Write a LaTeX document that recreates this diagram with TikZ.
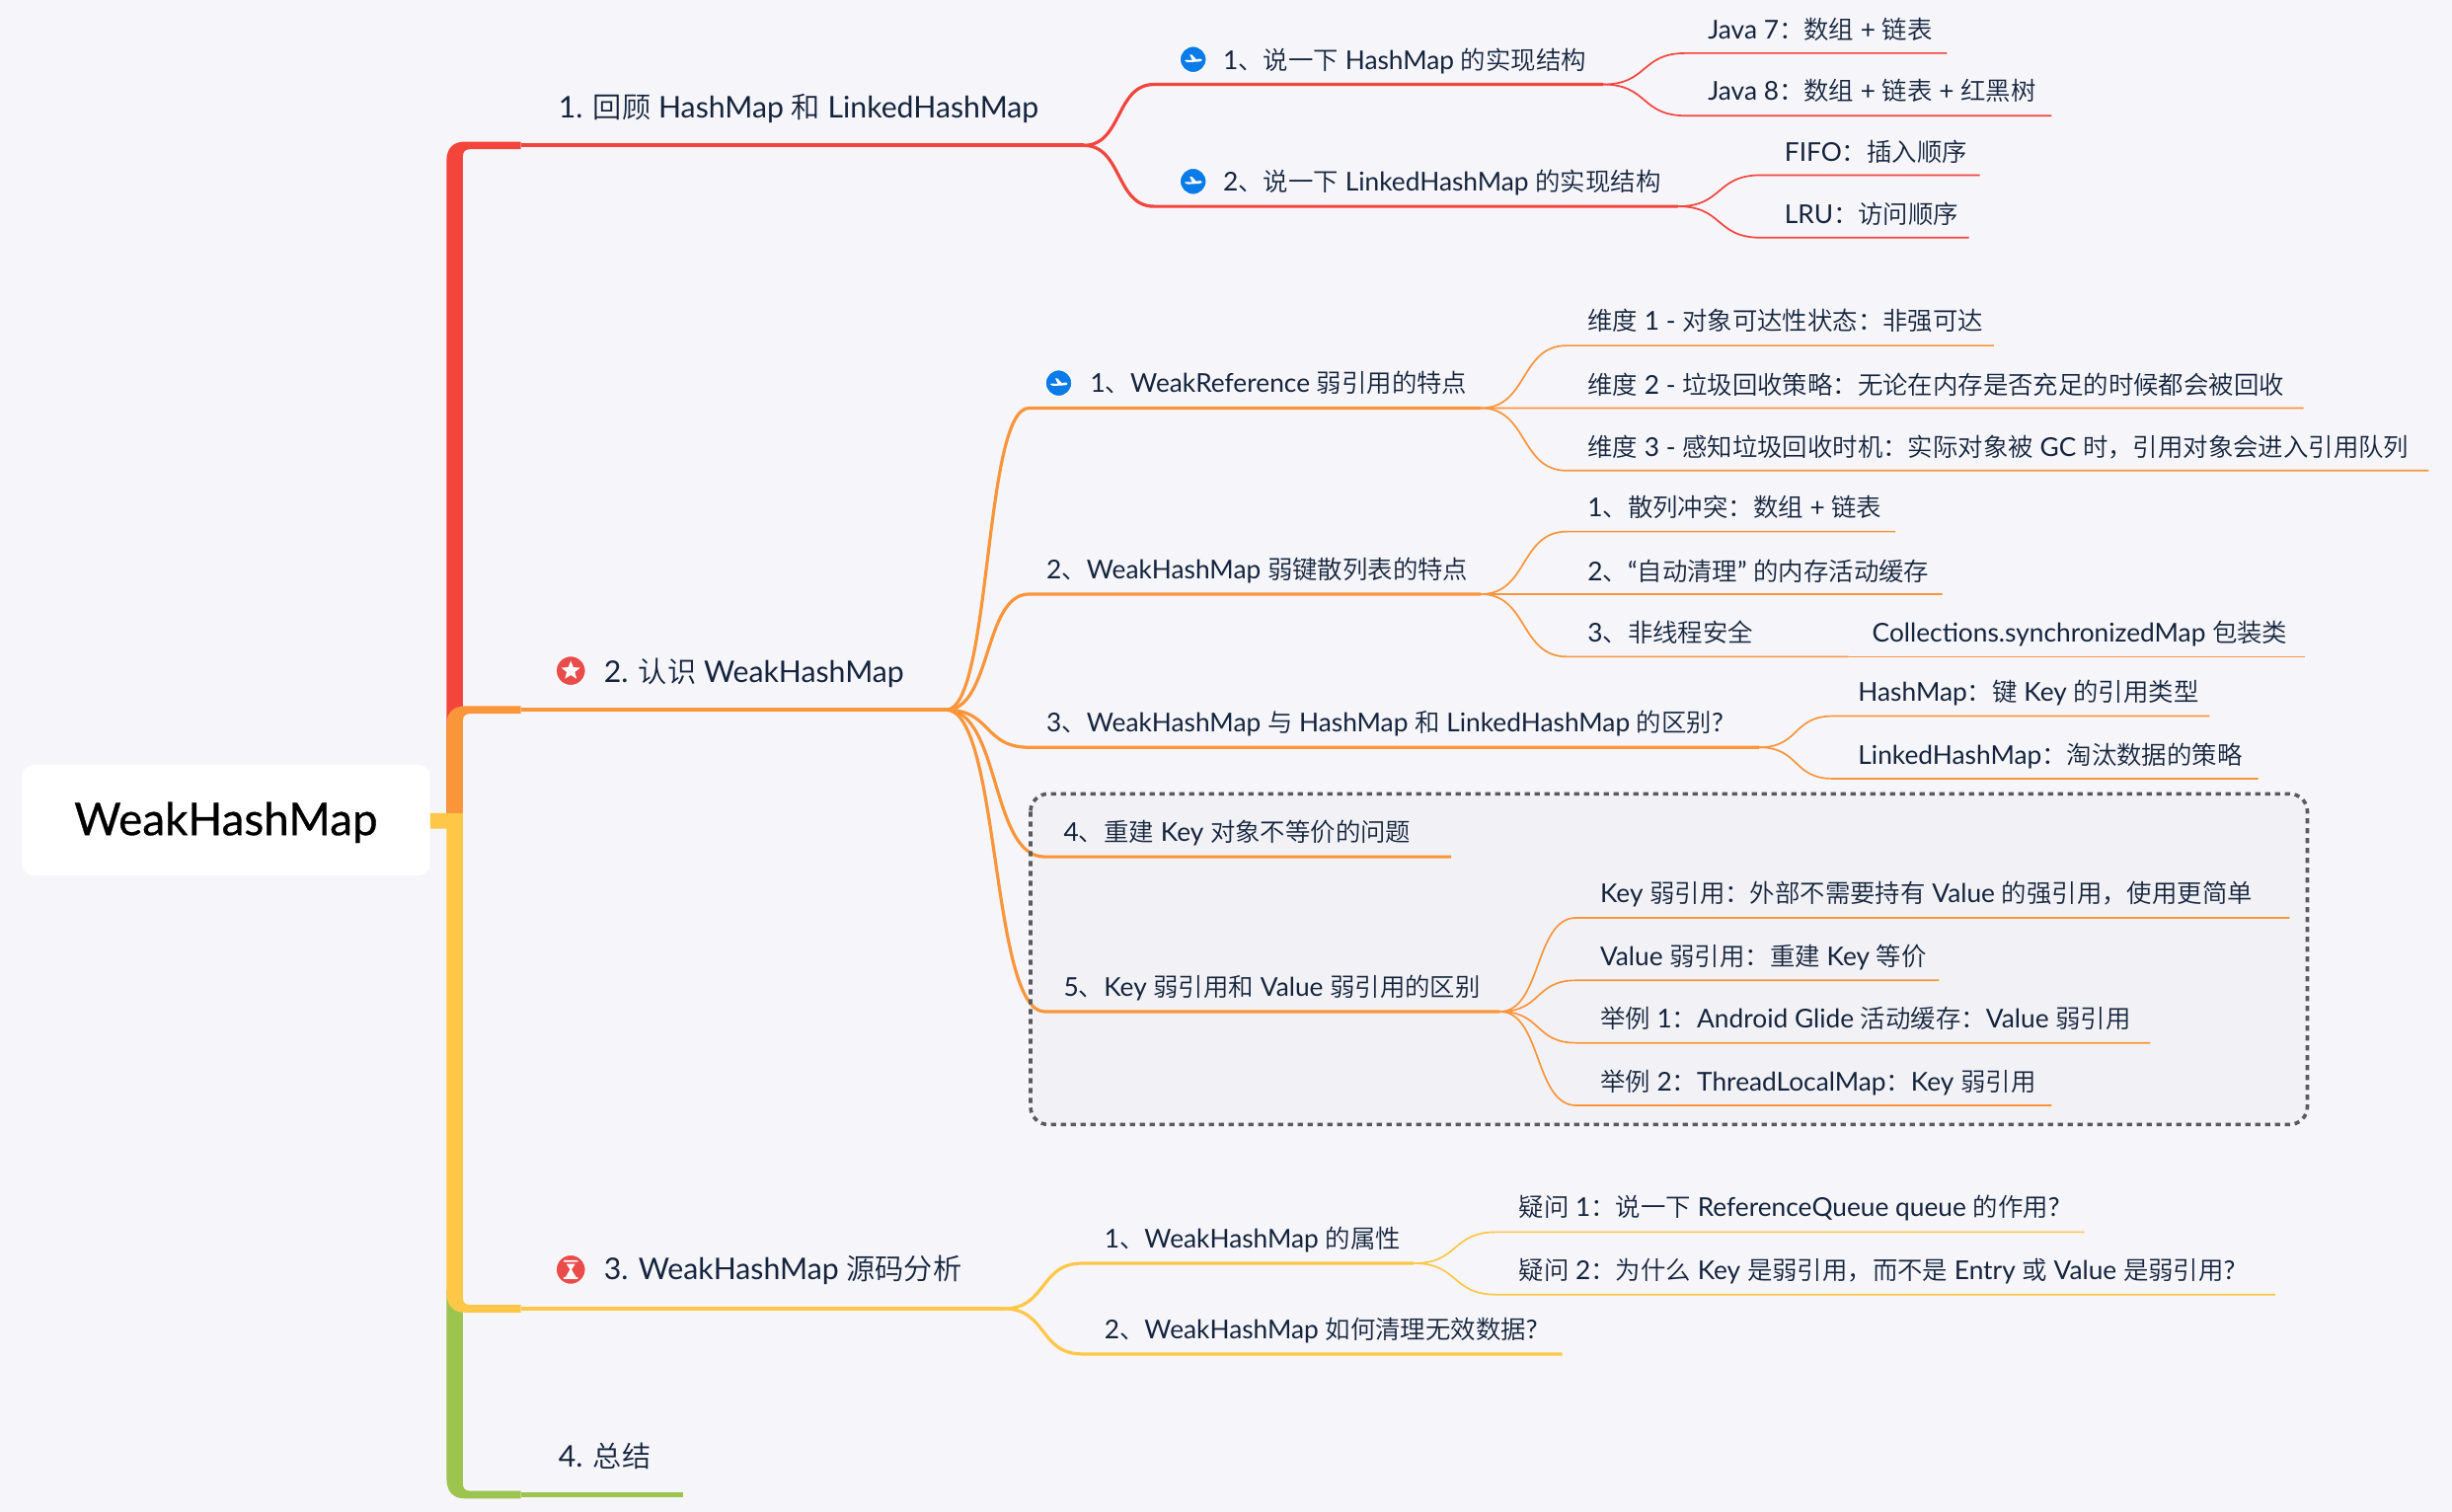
\documentclass[tikz,border=0pt]{standalone}
\usepackage{fontspec}
\usetikzlibrary{calc,shapes.geometric}
\setmainfont[Scale=1.035]{Lato}
\newfontfamily\zhf{Noto Sans CJK SC DemiLight}
\newfontfamily\rootf[FakeBold=0.6]{Lato}
\newcommand\z[1]{{\zhf #1}}
\definecolor{bgc}{HTML}{F5F5FA}
\definecolor{inkc}{HTML}{15243C}
\definecolor{redc}{HTML}{F4453D}
\definecolor{orac}{HTML}{FA953A}
\definecolor{yelc}{HTML}{FFC747}
\definecolor{grnc}{HTML}{9CC44F}
\definecolor{bluc}{HTML}{0A7BE8}
\definecolor{icrc}{HTML}{EA4B4B}
\definecolor{bdyc}{HTML}{5A5A5E}
\definecolor{bdfc}{HTML}{F2F2F6}
\tikzset{
  x=0.7921pt,y=-0.7921pt,
  lone/.style={font=\fontsize{14.6}{17}\selectfont,text=inkc,inner sep=0pt,anchor=base west},
  ltwo/.style={font=\fontsize{12.7}{15}\selectfont,text=inkc,inner sep=0pt,anchor=base west},
  wone/.style={line width=2.1pt,line cap=butt},
  wtwo/.style={line width=1.6pt},
  wthr/.style={line width=0.85pt},
  icon/.style={circle,inner sep=0pt,minimum size=13.4pt,draw=white,line width=0.6pt},
}
% id, start x, end x, underline y, text x, text centre y, style, text
\newcommand\tp[8]{%
  \coordinate (#1s) at (#2,#4);
  \coordinate (#1e) at (#3,#4);
  \node[#7] (#1) at (#5,#6+6.2) {#8};
}
\newcommand\br[3]{%
  \draw[#1] (#2) .. controls ($(#2)!0.55!(#3s|-#2)$) and ($(#3s)!0.55!(#2|-#3s)$) .. (#3s) -- (#3e);
}
\newcommand\plane[1]{%
  \fill[white,shift={(#1)}] (-5.5,0.6) -- (-4.2,0.3) -- (-0.6,0.5) -- (-2.2,-3) -- (-0.8,-3) -- (2,0) -- (4,-0.4)
     .. controls (6,-0.6) and (6.2,1.1) .. (4,1.4) -- (-3,1.8) .. controls (-4,1.8) and (-5,1.3) .. cycle;
}
\begin{document}
\begin{tikzpicture}
\useasboundingbox (0,0) rectangle (1568,967);
\fill[bgc] (0,0) rectangle (1568,967);

% boundary fill
\node[fill=bdfc,rounded corners=9pt,
  inner sep=0pt,minimum width=816*0.7921pt,minimum height=211*0.7921pt,anchor=north west] (bdy) at (659,507.7) {};

% trunk
\coordinate (t1) at (333,93);
\coordinate (t2) at (333,454);
\coordinate (t3) at (333,837);
\coordinate (t4) at (333,956);
\fill[grnc] (t4)+(0,-2.4) -- (301,953.6) .. controls (297.5,953.6) and (296,952) .. (296,949) -- (296,825) -- (285.6,825) -- (285.6,946)
  .. controls (285.6,954) and (290,958.4) .. (297,958.4) -- ($(t4)+(0,2.4)$) -- cycle;
\fill[redc] (t1)+(0,-2.4) -- (297,90.6) .. controls (290,90.6) and (285.6,95) .. (285.6,102) -- (285.6,525) -- (296,525) -- (296,100)
  .. controls (296,97) and (297.5,95.4) .. (301,95.4) -- ($(t1)+(0,2.4)$) -- cycle;
\fill[orac] (t2)+(0,-2.4) -- (297,451.6) .. controls (290,451.6) and (285.6,456) .. (285.6,463) -- (285.6,525) -- (296,525) -- (296,461)
  .. controls (296,458) and (297.5,456.4) .. (301,456.4) -- ($(t2)+(0,2.4)$) -- cycle;
\fill[yelc] (t3)+(0,-2.4) -- (301,834.6) .. controls (297.5,834.6) and (296,833) .. (296,830) -- (296,520) -- (275,520) -- (275,530) -- (285.6,530) -- (285.6,827)
  .. controls (285.6,835) and (290,839.4) .. (297,839.4) -- ($(t3)+(0,2.4)$) -- cycle;

% root
\node[fill=white,rounded corners=6pt,inner sep=0pt,minimum width=261*0.7921pt,minimum height=71*0.7921pt,
  text=black] (root) at (144.5,524.5) {};
\node[font=\rootf\fontsize{22.9}{26}\selectfont,text=black,inner sep=0pt] (rootlabel) at (144.5,526) {WeakHashMap};

% level 1
\tp{ra}{333}{693}{93}{357}{69.5}{lone}{1. \z{回顾} HashMap \z{和} LinkedHashMap}
\tp{rb}{333}{605}{454}{386}{430}{lone}{2. \z{认识} WeakHashMap}
\tp{rc}{333}{642}{837}{386}{812}{lone}{3. WeakHashMap \z{源码分析}}
\tp{rd}{333}{437}{956}{357}{932}{lone}{4. \z{总结}}
\draw[redc,wone] (t1) -- (rae);
\draw[orac,wone] (t2) -- (rbe);
\draw[yelc,wone] (t3) -- (rce);
\draw[grnc,wone] (t4) -- (rde);

% branch 1
\tp{aa}{738}{1025}{54}{782}{38}{ltwo}{1\z{、说一下} HashMap \z{的实现结构}}
\tp{ab}{738}{1073}{132}{782}{116}{ltwo}{2\z{、说一下} LinkedHashMap \z{的实现结构}}
\tp{aaa}{1078}{1245}{34}{1092}{19}{ltwo}{Java 7\z{：数组} + \z{链表}}
\tp{aab}{1078}{1312}{74}{1092}{58}{ltwo}{Java 8\z{：数组} + \z{链表} + \z{红黑树}}
\tp{aba}{1126}{1266}{112}{1141}{97}{ltwo}{FIFO\z{：插入顺序}}
\tp{abb}{1126}{1259}{152}{1141}{137}{ltwo}{LRU\z{：访问顺序}}
\br{redc,wtwo}{rae}{aa}
\br{redc,wtwo}{rae}{ab}
\br{redc,wthr}{aae}{aaa}
\br{redc,wthr}{aae}{aab}
\br{redc,wthr}{abe}{aba}
\br{redc,wthr}{abe}{abb}

% branch 2
\tp{ba}{658}{947}{261}{697}{245}{ltwo}{1\z{、}WeakReference \z{弱引用的特点}}
\tp{bb}{658}{947}{380}{669}{364}{ltwo}{2\z{、}WeakHashMap \z{弱键散列表的特点}}
\tp{bc}{658}{1125}{478}{669}{462}{ltwo}{3\z{、}WeakHashMap \z{与} HashMap \z{和} LinkedHashMap \z{的区别}?}
\tp{bd}{668}{928}{548}{680}{532}{ltwo}{4\z{、重建} Key \z{对象不等价的问题}}
\tp{be}{668}{959}{647}{680}{631}{ltwo}{5\z{、}Key \z{弱引用和} Value \z{弱引用的区别}}

\tp{baa}{1002}{1275}{221}{1015}{205}{ltwo}{\z{维度} 1 - \z{对象可达性状态：非强可达}}
\tp{bab}{1002}{1473}{261}{1015}{246}{ltwo}{\z{维度} 2 - \z{垃圾回收策略：无论在内存是否充足的时候都会被回收}}
\tp{bac}{1002}{1553}{301}{1015}{286}{ltwo}{\z{维度} 3 - \z{感知垃圾回收时机：实际对象被} GC \z{时，引用对象会进入引用队列}}
\tp{bba}{1002}{1212}{340}{1015}{324}{ltwo}{1\z{、散列冲突：数组} + \z{链表}}
\tp{bbb}{1002}{1242}{380}{1015}{365}{ltwo}{2\z{、}“\z{自动清理}” \z{的内存活动缓存}}
\tp{bbc}{1002}{1182}{420}{1015}{404.5}{ltwo}{3\z{、非线程安全}}
\tp{bbd}{1182}{1474}{420}{1197}{404.5}{ltwo}{Collections.synchronizedMap \z{包装类}}
\tp{bca}{1172}{1413}{458}{1188}{442}{ltwo}{HashMap\z{：键} Key \z{的引用类型}}
\tp{bcb}{1172}{1444}{498}{1188}{482.5}{ltwo}{LinkedHashMap\z{：淘汰数据的策略}}
\tp{bea}{1008}{1464}{587}{1023}{571}{ltwo}{Key \z{弱引用：外部不需要持有} Value \z{的强引用，使用更简单}}
\tp{beb}{1008}{1240}{627}{1023}{611.5}{ltwo}{Value \z{弱引用：重建} Key \z{等价}}
\tp{bec}{1008}{1375}{667}{1023}{651}{ltwo}{\z{举例} 1\z{：}Android Glide \z{活动缓存：}Value \z{弱引用}}
\tp{bed}{1008}{1312}{707}{1023}{691.5}{ltwo}{\z{举例} 2\z{：}ThreadLocalMap\z{：}Key \z{弱引用}}

\foreach \c in {ba,bb,bc,bd,be} {\br{orac,wtwo}{rbe}{\c}}
\foreach \c in {baa,bab,bac} {\br{orac,wthr}{bae}{\c}}
\foreach \c in {bba,bbb,bbc} {\br{orac,wthr}{bbe}{\c}}
\draw[orac,wthr] (bbce) -- (bbds) -- (bbde);
\foreach \c in {bca,bcb} {\br{orac,wthr}{bce}{\c}}
\foreach \c in {bea,beb,bec,bed} {\br{orac,wthr}{bee}{\c}}

% branch 3
\tp{ca}{692}{904}{808}{706}{792}{ltwo}{1\z{、}WeakHashMap \z{的属性}}
\tp{cb}{692}{999}{866}{706}{850}{ltwo}{2\z{、}WeakHashMap \z{如何清理无效数据}?}
\tp{caa}{957}{1333}{788}{971}{772}{ltwo}{\z{疑问} 1\z{：说一下} ReferenceQueue queue \z{的作用}?}
\tp{cab}{957}{1455}{828}{971}{812}{ltwo}{\z{疑问} 2\z{：为什么} Key \z{是弱引用，而不是} Entry \z{或} Value \z{是弱引用}?}
\foreach \c in {ca,cb} {\br{yelc,wtwo}{rce}{\c}}
\foreach \c in {caa,cab} {\br{yelc,wthr}{cae}{\c}}

% boundary outline, over the curves
\draw[bdyc,line width=1.8pt,dash pattern=on 2.6pt off 2.4pt,rounded corners=9pt] (bdy.north west) rectangle (bdy.south east);

% icons
\node[icon,fill=bluc] (ia) at (763,38) {}; \plane{ia}
\node[icon,fill=bluc] (ib) at (763,116) {}; \plane{ib}
\node[icon,fill=bluc] (ic) at (677,245) {}; \plane{ic}
\node[icon,fill=icrc,minimum size=15pt] (id) at (365,429) {};
\node[star,star points=5,star point ratio=2.3,fill=white,inner sep=0pt,minimum size=10pt] (ids) at (365,429) {};
\node[icon,fill=icrc,minimum size=15pt] (ie) at (365,812) {};
\fill[white,shift={(ie)}] (-4.5,-6) rectangle (4.5,-4.9) (-4.5,4.9) rectangle (4.5,6)
  (-2.8,-3.6) -- (2.8,-3.6) -- (0.5,0) -- (3.4,4.9) -- (-3.4,4.9) -- (-0.5,0) -- cycle;
\end{tikzpicture}
\end{document}
